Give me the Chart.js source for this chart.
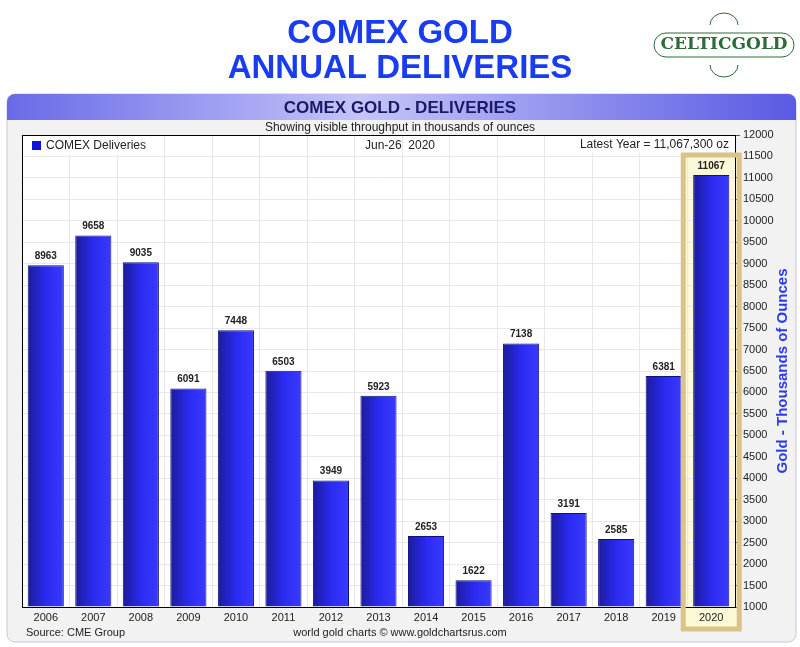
<!DOCTYPE html>
<html><head><meta charset="utf-8">
<script src="https://cdn.jsdelivr.net/npm/chart.js@4"></script>
<style>html,body{margin:0;padding:0;background:#fff}#c{display:block}</style>
</head><body>
<canvas id="c" width="800" height="647"></canvas>
<script>
const years = ['2006','2007','2008','2009','2010','2011','2012','2013','2014','2015','2016','2017','2018','2019','2020'];
const deliveries = [8963,9658,9035,6091,7448,6503,3949,5923,2653,1622,7138,3191,2585,6381,11067];
const yTicks = {min:1000, max:12000, step:500};

const deco = {
  id:'deco',
  beforeDraw(ch){
    const c=ch.ctx, a=ch.chartArea;
    c.save();
    c.fillStyle='#fff';c.fillRect(0,0,800,647);
    c.font='bold 33px "Liberation Sans",Arial';c.fillStyle='#1a3cf0';c.textAlign='center';c.textBaseline='middle';
    c.fillText('COMEX GOLD',400,34);c.fillText('ANNUAL DELIVERIES',400,69);
    c.font='bold 17px "DejaVu Serif",serif';c.fillStyle='#2d6b3a';c.fillText('CELTICGOLD',724,45);
    c.strokeStyle='#2d6b3a';c.lineWidth=1;
    c.beginPath();c.roundRect(654,33,140,24,12);c.stroke();
    c.beginPath();c.ellipse(724,25,14,12,0,Math.PI,0);c.stroke();
    c.beginPath();c.ellipse(724,65,14,12,0,0,Math.PI);c.stroke();
    c.fillStyle='#f2f2f2';c.strokeStyle='#c8c8d8';
    c.beginPath();c.roundRect(7,94,789,548,8);c.fill();c.stroke();
    const g=c.createLinearGradient(7,0,796,0);g.addColorStop(0,'#6a6ae8');g.addColorStop(0.45,'#c4c4f8');g.addColorStop(1,'#5a5ae4');
    c.fillStyle=g;c.beginPath();c.roundRect(7,94,789,26,[8,8,0,0]);c.fill();
    c.fillStyle='#1a1a66';c.font='bold 17px "Liberation Sans",Arial';c.fillText('COMEX GOLD - DELIVERIES',400,108);
    c.fillStyle='#222';c.font='12px "Liberation Sans",Arial';c.fillText('Showing visible throughput in thousands of ounces',400,128);
    c.fillStyle='#fff';c.fillRect(a.left,a.top,a.right-a.left,a.bottom-a.top);
    const xs=ch.scales.x, i=years.length-1, cx=xs.getPixelForValue(i);
    c.fillStyle='#fbf8d8';c.fillRect(cx-27,155,54,472);
    c.restore();
  },
  afterDraw(ch){
    const c=ch.ctx,a=ch.chartArea,xs=ch.scales.x;
    c.save();
    c.strokeStyle='#000';c.lineWidth=1;c.strokeRect(a.left+.5,a.top+.5,a.right-a.left,a.bottom-a.top);
    c.font='12px "Liberation Sans",Arial';c.textBaseline='middle';
    c.fillStyle='#fff';c.fillRect(a.left+4,a.top+3,125,16);
    c.fillStyle='#1010dd';c.fillRect(a.left+10,a.top+6,9,9);
    c.fillStyle='#222';c.textAlign='left';c.fillText('COMEX Deliveries',a.left+24,a.top+11);
    c.textAlign='center';c.fillText('Jun-26  2020',400,a.top+11);
    c.fillStyle='#fff';c.fillRect(560,a.top+2,a.right-561,16);
    c.fillStyle='#222';c.textAlign='right';c.fillText('Latest Year = 11,067,300 oz',a.right-6,a.top+10);
    c.font='bold 10px "Liberation Sans",Arial';c.textAlign='center';c.textBaseline='bottom';
    const m=ch.getDatasetMeta(0);
    m.data.forEach((b,k)=>{c.fillText(String(deliveries[k]),b.x,b.y-4);});
    const i=years.length-1,cx=xs.getPixelForValue(i);
    c.strokeStyle='#d8c488';c.lineWidth=5;c.strokeRect(cx-28,155,56,474);
    c.font='11px "Liberation Sans",Arial';c.fillStyle='#222';c.textBaseline='middle';c.textAlign='left';
    c.fillText('Source: CME Group',26,633);
    c.textAlign='center';c.fillText('world gold charts © www.goldchartsrus.com',400,633);
    c.translate(783,371);c.rotate(-Math.PI/2);c.font='bold 15px "Liberation Sans",Arial';c.fillStyle='#2a3ce8';
    c.fillText('Gold - Thousands of Ounces',0,0);
    c.restore();
  }
};

new Chart(document.getElementById('c'),{
  type:'bar',
  data:{labels:years,datasets:[{data:deliveries,base:1000,
    backgroundColor(ctx){const ch=ctx.chart;const xs=ch.scales&&ch.scales.x;
      if(!ch.chartArea||!xs)return '#2a2af0';
      const x=xs.getPixelForValue(ctx.dataIndex);const w=18;
      if(!isFinite(x))return '#2a2af0';
      const g=ch.ctx.createLinearGradient(x-w,0,x+w,0);
      g.addColorStop(0,'#1c1c9a');g.addColorStop(0.5,'#2a2af0');g.addColorStop(1,'#3a3aff');return g;},
    borderColor:'#101080',borderWidth:1,barPercentage:0.76,categoryPercentage:1}]},
  options:{responsive:false,animation:false,
    layout:{padding:{left:22,top:135,right:12,bottom:20}},
    plugins:{legend:{display:false},tooltip:{enabled:false}},
    scales:{
      x:{grid:{color:'#e8e8e8',offset:true,drawTicks:false},border:{display:false},
        ticks:{color:'#222',font:{size:11,family:'"Liberation Sans",Arial'},padding:4,maxRotation:0},
        afterFit(s){s.height=20;}},
      y:{position:'right',min:yTicks.min,max:yTicks.max,
        grid:{color:'#e8e8e8',tickColor:'#555',tickLength:5},border:{display:false},
        ticks:{stepSize:yTicks.step,color:'#222',font:{size:11,family:'"Liberation Sans",Arial'},padding:3,callback:v=>String(v)},
        afterFit(s){s.width=53;}}
    }},
  plugins:[deco]
});
</script>
</body></html>
